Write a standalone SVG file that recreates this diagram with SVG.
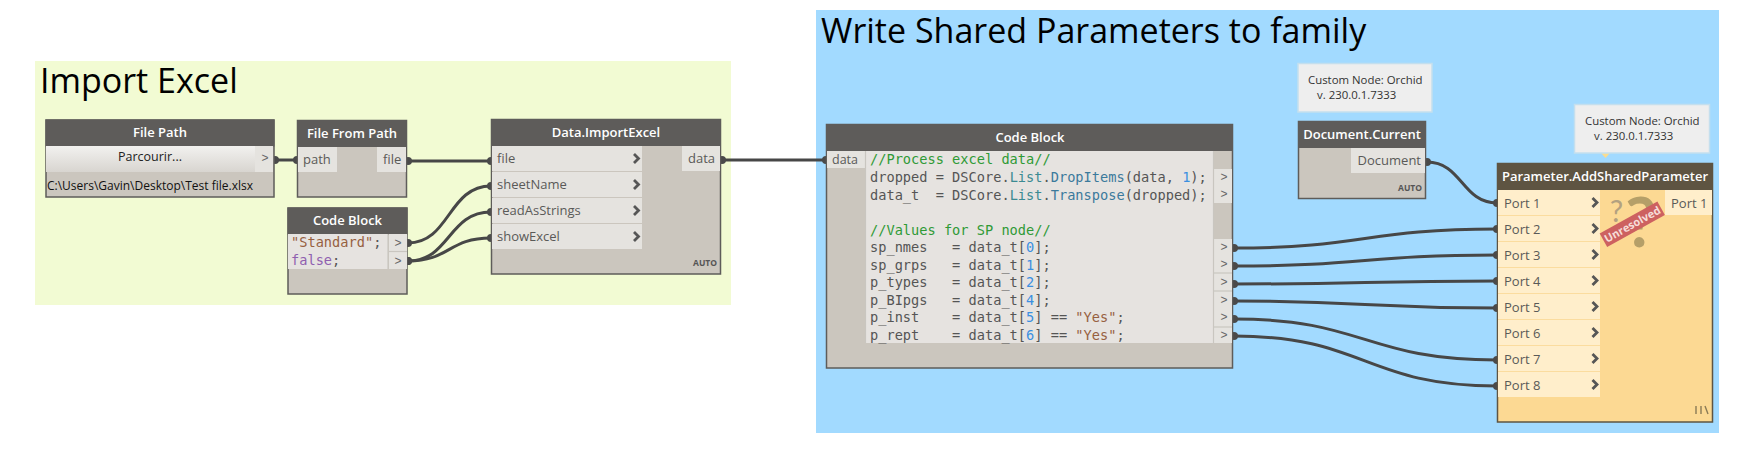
<svg xmlns="http://www.w3.org/2000/svg" width="1750" height="462" viewBox="0 0 1750 462">
<defs>
<marker id="knob" markerUnits="userSpaceOnUse" markerWidth="10" markerHeight="10" refX="5" refY="5"><circle cx="5" cy="5" r="4" fill="#4a4a4a"/></marker>
<path id="chev" d="M-2.500-4.500 L2 0 L-2.500 4.500" fill="none" stroke-width="2.800"/>
</defs>
<style>
text{font-family:"Open Sans","Noto Sans",sans-serif;font-size:13px;fill:#5a5a58}
.title{font-size:34px;fill:#000}
.hd{fill:#fff;font-weight:600;font-size:13px;text-anchor:middle;font-family:"Open Sans",sans-serif}
.h{fill:#5e5c5a}.hb{fill:#5e5442}
.body{fill:#cbc6be;stroke:#5e5c5a;stroke-width:1.5}
.pt{fill:#e5e3df}.ed{fill:#e6e3e0}
.sep{stroke:#c9c6c0;stroke-width:1.2}
.gt{font-size:12px;text-anchor:middle;fill:#666;font-family:"Liberation Sans",sans-serif}
.chev{stroke:#565656}
.auto{font-size:8.5px;font-weight:700;fill:#555;text-anchor:end}
.tip{fill:#eeeeee;stroke:#c4dfee;stroke-width:1.5}
.tt{font-size:11.4px;fill:#333}
.code{font-family:"DejaVu Sans Mono","Liberation Mono",monospace;font-size:13.65px;fill:#555;white-space:pre}
.cm{fill:#2f9a36}.st{fill:#96603f}.kw{fill:#8f5fb0}.num{fill:#3a8fe0}.cl{fill:#3b8a92}.fn{fill:#3b7a9c}
.w{fill:none;stroke:#474747;stroke-width:3;marker-start:url(#knob);marker-end:url(#knob)}
.pp{fill:#ffeecb}.ps{stroke:#fbdc9f;stroke-width:1.2}
</style>

<rect id="group-import" x="35" y="61" width="696" height="244" fill="#f2fbd3"/>
<rect id="group-write" x="816" y="10" width="903" height="423" fill="#a2daff"/>
<text class="title" x="40" y="93">Import Excel</text>
<text class="title" x="821" y="43">Write Shared Parameters to family</text>

<g id="connectors">
<path class="w" d="M275 160H297"/>
<path class="w" d="M408 161H491"/>
<path class="w" d="M408 243C450 243 448 186 491 186"/>
<path class="w" d="M408 261C450 261 448 212 491 212"/>
<path class="w" d="M408 261C450 261 448 238 491 238"/>
<path class="w" d="M722 160H826"/>
<path class="w" d="M1427 162C1462 162 1462 203 1497 203"/>
<path class="w" d="M1234 248C1365 248 1365 229 1497 229"/>
<path class="w" d="M1234 266C1365 266 1365 255 1497 255"/>
<path class="w" d="M1234 284C1365 284 1365 281 1497 281"/>
<path class="w" d="M1234 301C1365 301 1365 308 1497 308"/>
<path class="w" d="M1234 319C1365 319 1365 360 1497 360"/>
<path class="w" d="M1234 336C1365 336 1365 386 1497 386"/>
</g>

<g id="node-filepath">
<rect class="body" x="46" y="120" width="228" height="77"/>
<rect class="h" x="45.500" y="119.500" width="229" height="27"/>
<text class="hd" x="160" y="137">File Path</text>
<defs><linearGradient id="btn" x1="0" y1="0" x2="0" y2="1"><stop offset="0" stop-color="#f2f1ef"/><stop offset="1" stop-color="#d8d5d0"/></linearGradient></defs>
<rect x="46" y="146" width="209" height="26" fill="url(#btn)"/>
<text x="150" y="161" text-anchor="middle" style="fill:#222;font-size:12.500px">Parcourir...</text>
<rect class="pt" x="255" y="146" width="18" height="26"/>
<text class="gt" x="265" y="162">&gt;</text>
<text x="47" y="190" style="fill:#111;font-size:12px">C:\Users\Gavin\Desktop\Test file.xlsx</text>
</g>

<g id="node-filefrompath">
<rect class="body" x="297.500" y="120.500" width="109" height="76.500"/>
<rect class="h" x="297" y="120" width="110" height="27"/>
<text class="hd" x="352" y="138">File From Path</text>
<rect class="pt" x="298" y="147" width="39" height="25"/>
<rect class="pt" x="377" y="147" width="29" height="25"/>
<text x="303" y="164">path</text>
<text x="383" y="164">file</text>
</g>

<g id="node-codeblock-1">
<rect class="body" x="288" y="208" width="119" height="86"/>
<rect class="h" x="287.500" y="207.500" width="120" height="27"/>
<text class="hd" x="347.500" y="225">Code Block</text>
<rect class="ed" x="288" y="234" width="100" height="35"/>
<rect class="pt" x="389" y="234" width="18" height="35"/>
<line class="sep" x1="388" y1="234" x2="388" y2="269"/><line class="sep" x1="389" y1="251.500" x2="407" y2="251.500"/>
<text class="code" x="291" y="247"><tspan class="st">"Standard"</tspan>;</text>
<text class="code" x="291" y="265"><tspan class="kw">false</tspan>;</text>
<text class="gt" x="398" y="247">&gt;</text><text class="gt" x="398" y="265">&gt;</text>
</g>

<g id="node-importexcel">
<rect class="body" x="491.500" y="119.500" width="229" height="154.500"/>
<rect class="h" x="491" y="119" width="230" height="27"/>
<text class="hd" x="606" y="137">Data.ImportExcel</text>
<rect class="pt" x="492" y="146" width="150" height="25"/><rect class="pt" x="492" y="172" width="150" height="25"/>
<rect class="pt" x="492" y="198" width="150" height="25"/><rect class="pt" x="492" y="224" width="150" height="25"/>
<rect class="pt" x="682" y="146" width="38" height="25"/>
<text x="497" y="163">file</text><text x="497" y="189">sheetName</text><text x="497" y="215">readAsStrings</text><text x="497" y="241">showExcel</text>
<text x="715" y="163" text-anchor="end">data</text>
<use class="chev" href="#chev" x="636.500" y="158.500"/><use class="chev" href="#chev" x="636.500" y="184.500"/><use class="chev" href="#chev" x="636.500" y="210.500"/><use class="chev" href="#chev" x="636.500" y="236.500"/>
<text class="auto" x="717" y="266">AUTO</text>
</g>

<g id="node-codeblock-2">
<rect class="body" x="826.500" y="124.500" width="406" height="243.500"/>
<rect class="h" x="826" y="124" width="407" height="27"/>
<text class="hd" x="1030" y="142">Code Block</text>
<rect class="pt" x="827" y="151" width="38" height="17"/>
<text x="832" y="164" style="font-size:12.500px">data</text>
<rect class="ed" x="866" y="151" width="347" height="192"/>
<rect class="pt" x="1214" y="169" width="18" height="34"/>
<rect class="pt" x="1214" y="239" width="18" height="104"/>
<line class="sep" x1="865.500" y1="151" x2="865.500" y2="343"/><line class="sep" x1="1213.500" y1="151" x2="1213.500" y2="343"/>
<line class="sep" x1="1214" y1="273" x2="1232" y2="273"/><line class="sep" x1="1214" y1="291" x2="1232" y2="291"/><line class="sep" x1="1214" y1="327" x2="1232" y2="327"/>
<text class="code" x="870" y="164"><tspan class="cm">//Process excel data//</tspan></text>
<text class="code" x="870" y="182">dropped = DSCore.<tspan class="cl">List</tspan>.<tspan class="fn">DropItems</tspan>(data, <tspan class="num">1</tspan>);</text>
<text class="code" x="870" y="200">data_t  = DSCore.<tspan class="cl">List</tspan>.<tspan class="fn">Transpose</tspan>(dropped);</text>
<text class="code" x="870" y="235"><tspan class="cm">//Values for SP node//</tspan></text>
<text class="code" x="870" y="252">sp_nmes   = data_t[<tspan class="num">0</tspan>];</text>
<text class="code" x="870" y="270">sp_grps   = data_t[<tspan class="num">1</tspan>];</text>
<text class="code" x="870" y="287">p_types   = data_t[<tspan class="num">2</tspan>];</text>
<text class="code" x="870" y="305">p_BIpgs   = data_t[<tspan class="num">4</tspan>];</text>
<text class="code" x="870" y="322">p_inst    = data_t[<tspan class="num">5</tspan>] == <tspan class="st">"Yes"</tspan>;</text>
<text class="code" x="870" y="340">p_rept    = data_t[<tspan class="num">6</tspan>] == <tspan class="st">"Yes"</tspan>;</text>
<text class="gt" x="1224" y="181">&gt;</text><text class="gt" x="1224" y="198">&gt;</text>
<text class="gt" x="1224" y="251">&gt;</text><text class="gt" x="1224" y="268">&gt;</text><text class="gt" x="1224" y="286">&gt;</text><text class="gt" x="1224" y="304">&gt;</text><text class="gt" x="1224" y="321">&gt;</text><text class="gt" x="1224" y="339">&gt;</text>
</g>

<g id="node-document">
<rect class="tip" x="1298" y="63.500" width="134" height="48.500"/>
<text class="tt" x="1308" y="84">Custom Node: Orchid</text>
<text class="tt" x="1317" y="99">v. 230.0.1.7333</text>
<rect class="body" x="1298.500" y="121.500" width="127" height="77"/>
<rect class="h" x="1298" y="121" width="128" height="27"/>
<text class="hd" x="1362" y="139">Document.Current</text>
<rect class="pt" x="1351" y="148" width="74" height="25"/>
<text x="1421" y="165" text-anchor="end">Document</text>
<text class="auto" x="1422" y="191">AUTO</text>
</g>

<g id="node-addsharedparameter">
<path d="M1601 153h9l-4.500 5z" fill="#fbdc8f"/>
<rect class="tip" x="1574.500" y="104.500" width="135" height="48.500"/>
<text class="tt" x="1585" y="125">Custom Node: Orchid</text>
<text class="tt" x="1594" y="140">v. 230.0.1.7333</text>
<rect x="1497.500" y="163.500" width="215" height="258.500" fill="#fcd993" stroke="#5e5442" stroke-width="1.500"/>
<rect class="hb" x="1497" y="163" width="216" height="27"/>
<text class="hd" x="1605" y="181">Parameter.AddSharedParameter</text>
<rect class="pp" x="1498" y="190" width="102" height="207"/>
<line class="ps" x1="1498" y1="215.500" x2="1600" y2="215.500"/><line class="ps" x1="1498" y1="241.500" x2="1600" y2="241.500"/><line class="ps" x1="1498" y1="267.500" x2="1600" y2="267.500"/><line class="ps" x1="1498" y1="293.500" x2="1600" y2="293.500"/><line class="ps" x1="1498" y1="319.500" x2="1600" y2="319.500"/><line class="ps" x1="1498" y1="345.500" x2="1600" y2="345.500"/><line class="ps" x1="1498" y1="371.500" x2="1600" y2="371.500"/>
<rect class="pp" x="1665" y="190" width="47" height="25"/>
<text x="1504" y="208">Port 1</text><text x="1504" y="234">Port 2</text><text x="1504" y="260">Port 3</text><text x="1504" y="286">Port 4</text><text x="1504" y="312">Port 5</text><text x="1504" y="338">Port 6</text><text x="1504" y="364">Port 7</text><text x="1504" y="390">Port 8</text>
<text x="1671" y="208">Port 1</text>
<use class="chev" href="#chev" x="1595" y="202.500"/><use class="chev" href="#chev" x="1595" y="228.500"/><use class="chev" href="#chev" x="1595" y="254.500"/><use class="chev" href="#chev" x="1595" y="280.500"/><use class="chev" href="#chev" x="1595" y="306.500"/><use class="chev" href="#chev" x="1595" y="332.500"/><use class="chev" href="#chev" x="1595" y="358.500"/><use class="chev" href="#chev" x="1595" y="384.500"/>
<text x="1616.500" y="222" text-anchor="middle" style="font-size:30px;fill:#b3a180;font-family:Lato,sans-serif">?</text>
<text x="1641" y="247" text-anchor="middle" style="font-size:68px;font-weight:700;fill:#b59f68;font-family:Lato,sans-serif">?</text>
<g transform="rotate(-29 1632.300 224.300)"><rect x="1599.300" y="216.500" width="66" height="15.500" fill="#cd6160"/><text x="1632.300" y="228.300" text-anchor="middle" style="font-size:11px;font-weight:700;fill:#f6dcd8">Unresolved</text></g>
<path d="M1696 406v8M1701 406v8M1705 406l3 8" stroke="#8a7a55" stroke-width="1.400" fill="none"/>
</g>
</svg>
